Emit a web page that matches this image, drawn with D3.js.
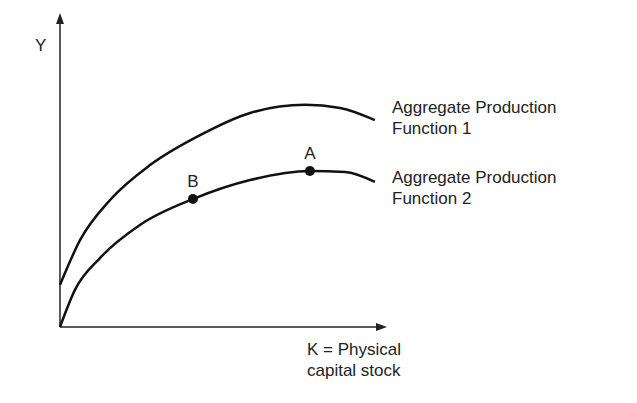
<!DOCTYPE html>
<html><head><meta charset="utf-8">
<script src="https://cdn.jsdelivr.net/npm/d3@7"></script>
<style>body{margin:0;background:#fff}text{font-family:"Liberation Sans",Arial,sans-serif;fill:#222}</style>
</head><body><svg id="c" width="637" height="403"></svg>
<script>
// in 0-100 units of each axis
var k1 = [0, 6.2, 15.4, 27.7, 43.1, 58.5, 75.4, 86.2, 96.9];
var y1 = [13.5, 27.9, 40.7, 51.9, 61.5, 68.6, 71.2, 70.2, 66.3];
var k2 = [0, 4.6, 12.3, 24.6, 40.9, 58.5, 76.9, 87.7, 96.9];
var y2 = [0, 11.9, 22.1, 32.7, 41.0, 47.1, 50.0, 49.7, 46.5];
var pointNames = ["B", "A"];
var pointK = [40.9, 76.9];
var pointY = [41.0, 50.0];

var svg = d3.select("#c");
var x = d3.scaleLinear().domain([0, 100]).range([60, 385]);
var y = d3.scaleLinear().domain([0, 100]).range([327, 15]);

// axes with arrows
svg.append("line").attr("x1", 60).attr("x2", 60).attr("y1", 327).attr("y2", 22)
  .attr("stroke", "#222").attr("stroke-width", 1.5);
svg.append("path").attr("d", "M56,24 L60,13 L64,24 Z").attr("fill", "#222");
svg.append("line").attr("x1", 60).attr("x2", 378).attr("y1", 327).attr("y2", 327)
  .attr("stroke", "#222").attr("stroke-width", 1.5);
svg.append("path").attr("d", "M376,323 L387,327 L376,331 Z").attr("fill", "#222");

var line = d3.line().x(d => x(d[0])).y(d => y(d[1])).curve(d3.curveMonotoneX);
[[k1, y1], [k2, y2]].forEach(function (s) {
  svg.append("path").datum(d3.zip(s[0], s[1])).attr("d", line)
    .attr("fill", "none").attr("stroke", "#111").attr("stroke-width", 2.5);
});

pointNames.forEach(function (n, i) {
  svg.append("circle").attr("cx", x(pointK[i])).attr("cy", y(pointY[i])).attr("r", 5).attr("fill", "#111");
  svg.append("text").attr("x", x(pointK[i])).attr("y", y(pointY[i]) - 12)
    .attr("text-anchor", "middle").attr("font-size", 17).text(n);
});

function lab(xp, yp, lines) {
  var t = svg.append("text").attr("x", xp).attr("y", yp).attr("font-size", 17);
  lines.forEach((l, i) => t.append("tspan").attr("x", xp).attr("dy", i ? 21 : 0).text(l));
}
lab(392, 113, ["Aggregate Production", "Function 1"]);
lab(392, 183, ["Aggregate Production", "Function 2"]);
lab(307, 355, ["K = Physical", "capital stock"]);
lab(35, 51, ["Y"]);
</script></body></html>
